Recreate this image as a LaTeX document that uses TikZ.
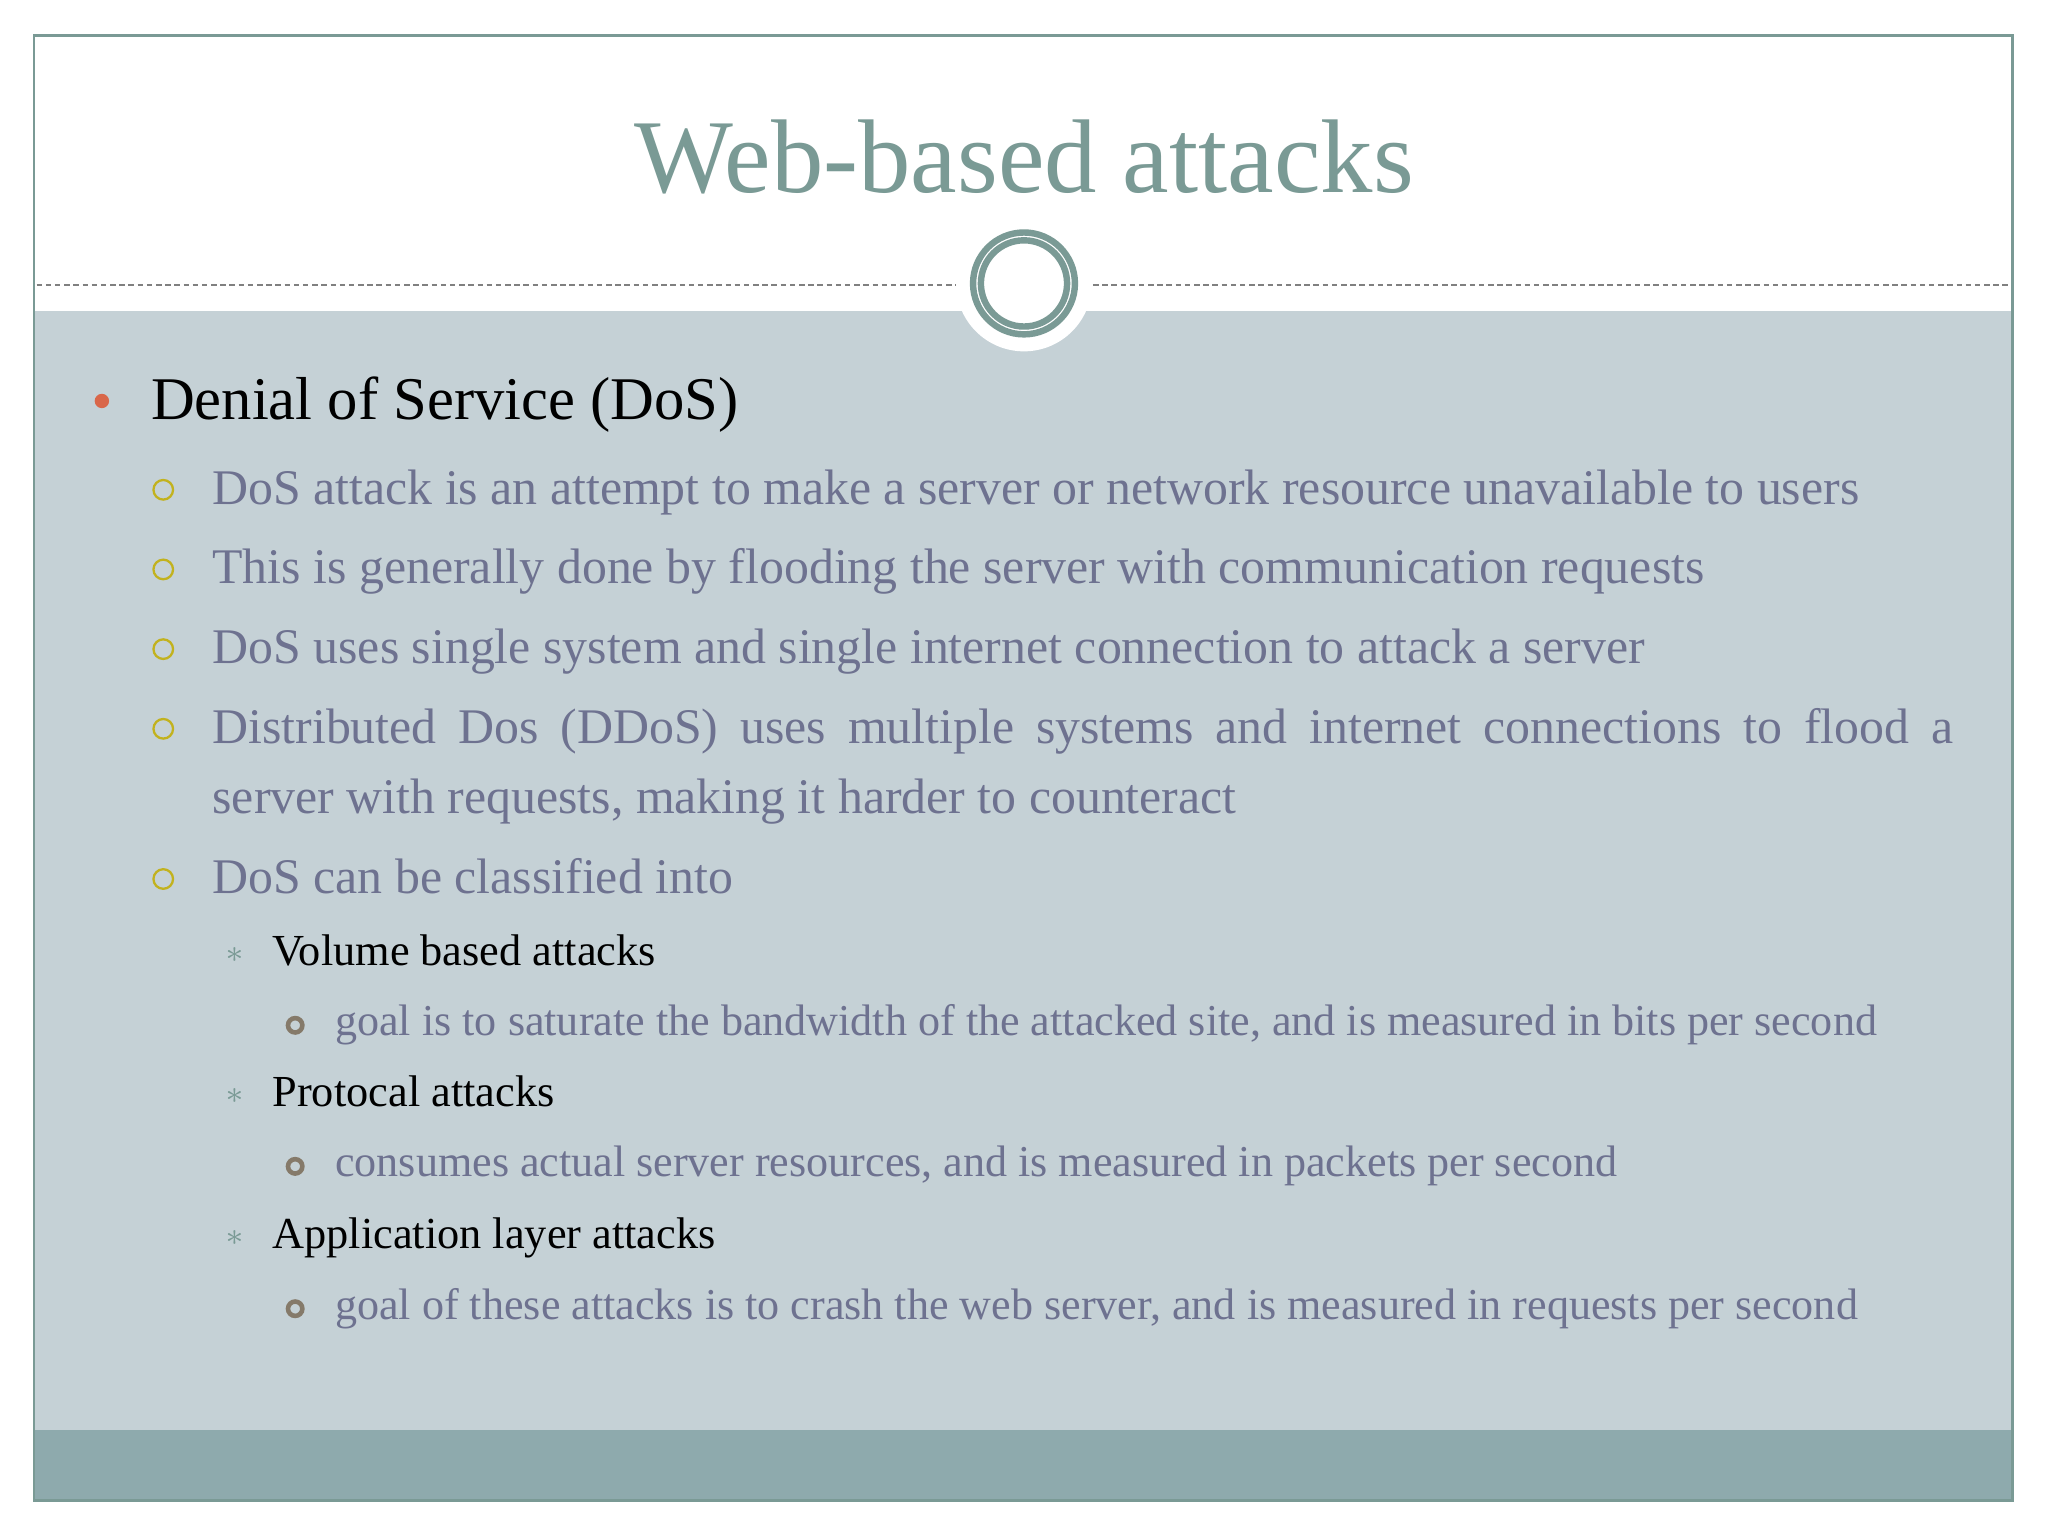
\documentclass[tikz,border=0pt]{standalone}
\usepackage{fontspec}
\setmainfont{Liberation Serif}
\usetikzlibrary{positioning}
\definecolor{slidegray}{HTML}{C5D1D6}
\definecolor{footgray}{HTML}{8EAAAD}
\definecolor{titlegreen}{HTML}{7A9A95}
\definecolor{bodytext}{HTML}{6E7290}
\definecolor{olive}{HTML}{C2B21E}
\definecolor{dotorange}{HTML}{D9674A}
\definecolor{subbrown}{HTML}{857A6A}
\tikzset{
  lvlone/.style={anchor=base west,inner sep=0pt,font=\fontsize{13.2}{16}\selectfont,text=black},
  lvltwo/.style={anchor=base west,inner sep=0pt,font=\fontsize{10.85}{15.4}\selectfont,text=bodytext},
  lvlthree/.style={anchor=base west,inner sep=0pt,font=\fontsize{9.65}{12}\selectfont,text=black},
  lvlfour/.style={anchor=base west,inner sep=0pt,font=\fontsize{9.6}{12}\selectfont,text=bodytext},
  ring/.style={draw=olive,line width=0.5pt,circle,inner sep=0pt,minimum size=0.15cm},
  subring/.style={draw=subbrown,line width=1pt,circle,inner sep=0pt,minimum size=0.11cm},
  star/.style={text=titlegreen,inner sep=0pt,font=\fontsize{7}{7}\selectfont}
}
\begin{document}
\begin{tikzpicture}[x=0.01cm,y=-0.01cm]
\useasboundingbox (0,0) rectangle (1568,1176);
\fill[white] (0,0) rectangle (1568,1176);
% slide background
\fill[slidegray] (26,238) rectangle (1541,1095);
\fill[footgray] (26,1095) rectangle (1541,1149);
\draw[titlegreen,line width=0.6pt] (26,27) rectangle (1541,1149);
\draw[gray,dash pattern=on 1.2pt off 0.8pt,line width=0.4pt] (28,218) -- (1540,218);
\fill[white] (784,217) circle (52);
\draw[titlegreen,line width=1.4pt] (784,217) circle (39);
\draw[titlegreen,line width=1.4pt] (784,217) circle (33);
% title
\node[text=titlegreen,font=\fontsize{22.8}{28}\selectfont,inner sep=0pt] (title) at (784,120) {Web-based attacks};
% bullets
\fill[dotorange] (78,307) circle (5.5);
\node[lvlone] (dos) at (115,321) {Denial of Service (DoS)};
\node[ring] (r1) at (125,375) {};
\node[lvltwo] (t1) at (162,386) {DoS attack is an attempt to make a server or network resource unavailable to users};
\node[ring] (r2) at (125,436) {};
\node[lvltwo] (t2) at (162,447) {This is generally done by flooding the server with communication requests};
\node[ring] (r3) at (125,497) {};
\node[lvltwo] (t3) at (162,508) {DoS uses single system and single internet connection to attack a server};
\node[ring] (r4) at (125,558) {};
\node[lvltwo] (t4) at (162,569) {\makebox[13.32cm][s]{Distributed Dos (DDoS) uses multiple systems and internet connections to flood a}};
\node[lvltwo] (t4b) at (162,623) {server with requests, making it harder to counteract};
\node[ring] (r5) at (125,673) {};
\node[lvltwo] (t5) at (162,684) {DoS can be classified into};
\node[star] (s1) at (180,731) {$\ast$};
\node[lvlthree] (v1) at (208,739) {Volume based attacks};
\node[subring] (c1) at (226,785) {};
\node[lvlfour] (w1) at (256,793) {goal is to saturate the bandwidth of the attacked site, and is measured in bits per second};
\node[star] (s2) at (180,839) {$\ast$};
\node[lvlthree] (v2) at (208,847) {Protocal attacks};
\node[subring] (c2) at (226,893) {};
\node[lvlfour] (w2) at (256,901) {consumes actual server resources, and is measured in packets per second};
\node[star] (s3) at (180,948) {$\ast$};
\node[lvlthree] (v3) at (208,956) {Application layer attacks};
\node[subring] (c3) at (226,1002) {};
\node[lvlfour] (w3) at (256,1010) {goal of these attacks is to crash the web server, and is measured in requests per second};
\end{tikzpicture}
\end{document}
